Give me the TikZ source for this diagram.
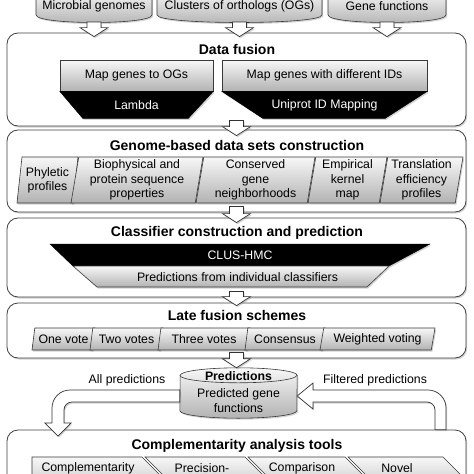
\documentclass[tikz,border=0pt]{standalone}
\usepackage{fontspec}
\setmainfont{Liberation Sans}
\usetikzlibrary{shapes.geometric,shadows,calc,positioning}

\tikzstyle{dshadow} = [drop shadow={opacity=0.35,shadow xshift=1.2pt,shadow yshift=-1.5pt}]
\tikzstyle{panel} = [draw=gray!50!black,line width=0.8pt,fill=white,rounded corners=11pt,dshadow]
\tikzstyle{paneltitle} = [font=\bfseries\fontsize{14}{16}\selectfont,anchor=base,inner sep=0pt]
\tikzstyle{txt} = [font=\fontsize{12.3}{14.3}\selectfont,align=center,inner sep=0pt]
\tikzstyle{gbox} = [draw=gray!45!black,line width=0.6pt,top color=gray!6,bottom color=gray!60,dshadow]
\tikzstyle{bbox} = [draw=black,fill=black,dshadow]
\tikzstyle{pgram} = [gbox,txt,trapezium,trapezium stretches body=true,inner sep=0pt]
\tikzstyle{pgramA} = [pgram,trapezium left angle=79,trapezium right angle=101,minimum height=46pt]
\tikzstyle{pgramB} = [pgram,trapezium left angle=72,trapezium right angle=108,minimum height=22pt]
\tikzstyle{bigarrow} = [draw=gray!40!black,line width=0.7pt,fill=white,dshadow]

\newcommand{\blockdown}[2]{%
  \draw[bigarrow] let \p1=(#1), \p2=(#2) in
    (\x1-7pt,\y1) -- (\x1-7pt,\y2+9pt) -- (\x1-14pt,\y2+9pt) -- (\x1,\y2)
    -- (\x1+14pt,\y2+9pt) -- (\x1+7pt,\y2+9pt) -- (\x1+7pt,\y1) -- cycle;}

\begin{document}
\begin{tikzpicture}[x=1pt,y=-1pt]
\useasboundingbox (0,0) rectangle (474,474);
\clip (0,0) rectangle (474,474);

% input data
\draw[gbox] (36,-10) -- (36,15) .. controls (37,25) and (151,25) .. (152,15) -- (152,-10) -- cycle;
\draw[gbox] (157,-10) -- (157,15) .. controls (158,25) and (321,25) .. (322,15) -- (322,-10) -- cycle;
\draw[gbox] (328,-10) -- (328,15) .. controls (329,25) and (445,25) .. (446,15) -- (446,-10) -- cycle;
\node[txt] (src_1) at (94,6) {Microbial genomes};
\node[txt] (src_2) at (239.5,6) {Clusters of orthologs (OGs)};
\node[txt] (src_3) at (387,6) {Gene functions};

% panels
\node[panel,minimum width=459pt,minimum height=93pt] (fusion) at (236.5,79.5) {};
\node[panel,minimum width=459pt,minimum height=82pt] (genome) at (236.5,171) {};
\node[panel,minimum width=459pt,minimum height=79pt] (classif) at (236.5,257.5) {};
\node[panel,minimum width=459pt,minimum height=55pt] (late) at (236.5,330.5) {};
\node[panel,minimum width=459pt,minimum height=90pt] (compl) at (236.5,475) {};

\node[paneltitle] (fusion_t) at (237,54) {Data fusion};
\node[paneltitle] (genome_t) at (237,150) {Genome-based data sets construction};
\node[paneltitle] (classif_t) at (237,236) {Classifier construction and prediction};
\node[paneltitle] (late_t) at (237,320) {Late fusion schemes};
\node[paneltitle] (compl_t) at (237,449) {Complementarity analysis tools};

% data fusion
\node[gbox,txt,minimum width=153pt,minimum height=31pt] (map_og) at (136.5,75.5) {Map genes to OGs};
\draw[bbox] (map_og.south west) -- (map_og.south east) -- ++(-25,27) -- ($(map_og.south west)+(23,27)$) -- cycle;
\node[txt,text=white] (lambda) at (136.5,105) {Lambda};
\node[gbox,txt,minimum width=205pt,minimum height=31pt] (map_id) at (324.5,75.5) {Map genes with different IDs};
\draw[bbox] (map_id.south west) -- (map_id.south east) -- ++(-42,27) -- ($(map_id.south west)+(41,27)$) -- cycle;
\node[txt,text=white] (uniprot) at (324.5,105) {Uniprot ID Mapping};

% data sets
\node[pgramA,minimum width=61pt] (phyl) at (47.5,180) {Phyletic\\profiles};
\node[pgramA,minimum width=132pt] (bioph) at (137,180) {Biophysical and\\protein sequence\\properties};
\node[pgramA,minimum width=119pt] (neigh) at (255.5,180) {Conserved\\gene\\neighborhoods};
\node[pgramA,minimum width=79pt] (kernel) at (347.5,180) {Empirical\\kernel\\map};
\node[pgramA,minimum width=83pt] (transl) at (421.5,180) {Translation\\efficiency\\profiles};

% classifiers
\draw[bbox] (50,244) -- (430,244) -- (389,266) -- (73,266) -- cycle;
\draw[gbox] (73,266) -- (389,266) -- (367,287) -- (97,287) -- cycle;
\node[txt,text=white] (clus) at (240,255) {CLUS-HMC};
\node[txt] (indiv) at (237.5,277) {Predictions from individual classifiers};

% late fusion
\node[pgramB,minimum width=63pt] (vote_1) at (63.5,339) {One vote};
\node[pgramB,minimum width=73pt] (vote_2) at (126.5,339) {Two votes};
\node[pgramB,minimum width=92pt] (vote_3) at (204,339) {Three votes};
\node[pgramB,minimum width=80pt] (vote_c) at (285,339) {Consensus};
\node[pgramB,minimum width=115pt] (vote_w) at (377.5,339) {Weighted voting};

% predictions
\node[minimum width=117pt,minimum height=50pt,inner sep=0pt] (pred) at (238.5,393) {};
\path[gbox] ([yshift=7.5pt]pred.south west) arc[start angle=180,end angle=360,x radius=58.5pt,y radius=7.5pt]
  -- ([yshift=-7.5pt]pred.north east) arc[start angle=0,end angle=180,x radius=58.5pt,y radius=7.5pt] -- cycle;
\draw[draw=gray!45!black,line width=0.6pt] ([yshift=-7.5pt]pred.north west) arc[start angle=180,end angle=360,x radius=58.5pt,y radius=7.5pt];
\node[txt] (pred_t) at (238.5,392) {\textbf{Predictions}\\[3pt]Predicted gene\\functions};
\node[txt] (all_l) at (127,380) {All predictions};
\node[txt] (filt_l) at (375,380) {Filtered predictions};

% complementarity tools
\draw[gbox] (32,457) -- (142,457) -- (165,480) -- (142,503) -- (32,503) -- cycle;
\draw[gbox] (145,457) -- (245,457) -- (268,480) -- (245,503) -- (145,503) -- (168,480) -- cycle;
\draw[gbox] (248,457) -- (345,457) -- (368,480) -- (345,503) -- (248,503) -- (271,480) -- cycle;
\draw[gbox] (348,457) -- (443,457) -- (466,480) -- (443,503) -- (348,503) -- (371,480) -- cycle;
\node[txt] (tab_1) at (88,468) {Complementarity};
\node[txt] (tab_2) at (202,468) {Precision-};
\node[txt] (tab_3) at (302,468) {Comparison};
\node[txt] (tab_4) at (397,468) {Novel};

% arrows
\blockdown{[yshift=-16pt]src_1.center}{[yshift=-4pt]fusion.north}
\blockdown{[yshift=-16pt]src_2.center}{[yshift=-4pt]fusion.north}
\blockdown{[yshift=-16pt]src_3.center}{[yshift=-4pt]fusion.north}
\blockdown{[yshift=6pt]fusion.south}{[yshift=-6pt]genome.north}
\blockdown{[yshift=6pt]genome.south}{[yshift=-5pt]classif.north}
\blockdown{[yshift=6pt]classif.south}{[yshift=-3pt]late.north}
\blockdown{[yshift=6pt]late.south}{pred.north}
\draw[bigarrow] (pred.west |- 0,390) -- (70,390) to[out=180,in=90] (52,408) -- (52,423) -- (45,423) -- (58,436)
  -- (71,423) -- (64,423) -- (64,410) to[out=90,in=180] (72,402) -- (pred.west |- 0,402) -- cycle;
\draw[bigarrow] (compl.north -| 435,0) -- (435,410) to[out=90,in=0] (427,402) -- (313,402) -- (313,409)
  -- (pred.east |- 0,396) -- (313,383) -- (313,390) -- (428,390) to[out=0,in=90] (446,408)
  -- (compl.north -| 446,0) -- cycle;
\end{tikzpicture}
\end{document}
